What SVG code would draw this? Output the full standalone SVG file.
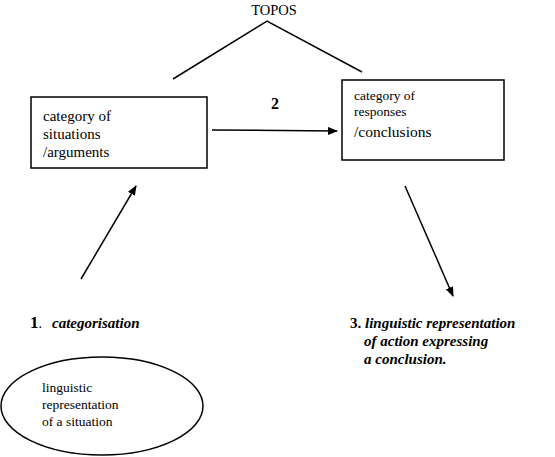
<svg xmlns="http://www.w3.org/2000/svg" width="555" height="457" viewBox="0 0 555 457" font-family="'Liberation Serif', 'Times New Roman', Tinos, 'DejaVu Serif', serif">
<style>
.s{stroke:#000;stroke-width:1.5;fill:none}
.b{stroke:#000;stroke-width:1.5;fill:#fff}
.bi{font-weight:bold;font-style:italic;font-size:15px}
</style>
<defs>
<marker id="ah" markerWidth="10" markerHeight="8" refX="9" refY="4" orient="auto" markerUnits="userSpaceOnUse">
<path d="M0,0 L10,4 L0,8 Z" fill="#000"/>
</marker>
</defs>
<rect width="555" height="457" fill="#fff"/>
<g id="topos">
<text x="274" y="15" font-size="14.5" text-anchor="middle">TOPOS</text>
</g>
<g id="connectors">
<polyline class="s" points="173,79 267,21 362,72"/>
<line class="s" x1="212" y1="130" x2="337" y2="131" marker-end="url(#ah)"/>
<line class="s" x1="81" y1="279" x2="136" y2="186" marker-end="url(#ah)"/>
<line class="s" x1="405" y1="186" x2="453" y2="296" marker-end="url(#ah)"/>
</g>
<g id="label2">
<text x="271" y="109" font-size="16" font-weight="bold">2</text>
</g>
<g id="box-situations">
<rect class="b" x="31" y="97" width="176" height="71"/>
<text x="43" y="121" font-size="15">category of</text>
<text x="43" y="139" font-size="15">situations</text>
<text x="43" y="157" font-size="15">/arguments</text>
</g>
<g id="box-responses">
<rect class="b" x="342" y="80" width="162" height="80"/>
<text x="354" y="100" font-size="13.5">category of</text>
<text x="354" y="116" font-size="13.5">responses</text>
<text x="354" y="137" font-size="15.5">/conclusions</text>
</g>
<g id="label1">
<text x="30" y="328" font-size="17" font-weight="bold">1<tspan font-size="14" font-weight="normal">.</tspan></text>
<text x="52" y="328" class="bi">categorisation</text>
</g>
<g id="label3">
<text x="350" y="328" class="bi"><tspan font-style="normal">3.</tspan> linguistic representation</text>
<text x="364" y="346" class="bi">of action expressing</text>
<text x="364" y="364" class="bi">a conclusion.</text>
</g>
<g id="ellipse-situation">
<ellipse class="b" cx="102" cy="406" rx="101" ry="49"/>
<text x="42" y="392" font-size="13.5">linguistic</text>
<text x="42" y="409" font-size="13.5">representation</text>
<text x="42" y="426" font-size="13.5">of a situation</text>
</g>
</svg>
